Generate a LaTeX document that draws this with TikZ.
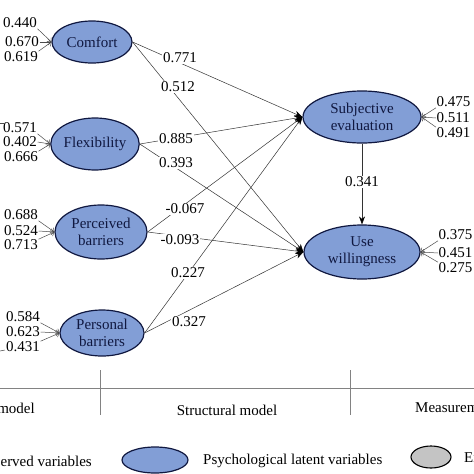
\documentclass[tikz,border=0pt]{standalone}
\usepackage{fontspec}
\setmainfont{Liberation Serif}
\usetikzlibrary{arrows.meta,shapes.geometric}
\definecolor{latent}{RGB}{130,158,214}
\definecolor{navy}{RGB}{16,24,64}
\definecolor{errgray}{RGB}{196,196,196}
\definecolor{rulegray}{RGB}{130,130,130}
\begin{document}
\begin{tikzpicture}[x=1pt,y=-1pt,
  font=\fontsize{15}{17}\selectfont,
  lat/.style={ellipse, draw=navy, line width=1.2pt, fill=latent, text=navy, align=center, inner sep=0pt},
  errell/.style={ellipse, draw=black, line width=1.1pt, fill=errgray, inner sep=0pt},
  pathline/.style={draw=black!80, line width=0.5pt, -{Stealth[length=8pt,width=6pt,color=black]}},
  measline/.style={draw=black!70, line width=0.5pt, -{Straight Barb[length=3pt,width=6pt]}},
  coef/.style={fill=white, inner sep=0.8pt},
  mnum/.style={inner sep=0.5pt},
  rule/.style={draw=rulegray, line width=0.6pt}]
\useasboundingbox (0,0) rectangle (474,474);
\clip (0,0) rectangle (474,474);
\fill[white] (0,0) rectangle (474,474);

% latent variables
\node[lat, minimum width=80pt, minimum height=42pt] (comfort) at (92,42) {Comfort};
\node[lat, minimum width=86pt, minimum height=52pt] (flex) at (95,144) {Flexibility};
\node[lat, minimum width=92pt, minimum height=54pt] (perc) at (101,232) {Perceived\\barriers};
\node[lat, minimum width=84pt, minimum height=46pt] (pers) at (102,333) {Personal\\barriers};
\node[lat, minimum width=118pt, minimum height=52pt] (subj) at (362,117) {Subjective\\evaluation};
\node[lat, minimum width=116pt, minimum height=54pt] (use) at (362,252) {Use\\willingness};

% structural paths
\draw[pathline] (comfort.east) -- (subj.west);
\draw[pathline] (comfort.east) -- (use.west);
\draw[pathline] (flex.east) -- (subj.west);
\draw[pathline] (flex.east) -- (use.west);
\draw[pathline] (perc.east) -- (subj.west);
\draw[pathline] (perc.east) -- (use.west);
\draw[pathline] (pers.east) -- (subj.west);
\draw[pathline] (pers.east) -- (use.west);
\draw[pathline] (subj.south) -- (use.north);

\node[coef] (c1) at (180,58) {0.771};
\node[coef] (c2) at (178,87) {0.512};
\node[coef] (c3) at (176,139) {0.885};
\node[coef] (c4) at (176,163) {0.393};
\node[coef] (c5) at (185,209) {-0.067};
\node[coef] (c6) at (180,240) {-0.093};
\node[coef] (c7) at (188,273) {0.227};
\node[coef] (c8) at (189,322) {0.327};
\node[coef] (c9) at (362,182) {0.341};

% measurement model, left
\node[mnum] (m1) at (20,23) {0.440};
\node[mnum] (m2) at (22,42) {0.670};
\node[mnum] (m3) at (21,57) {0.619};
\node[mnum] (m4) at (20,128) {0.571};
\node[mnum] (m5) at (20,142) {0.402};
\node[mnum] (m6) at (21,157) {0.666};
\node[mnum] (m7) at (21,215) {0.688};
\node[mnum] (m8) at (21,231) {0.524};
\node[mnum] (m9) at (21,245) {0.713};
\node[mnum] (m10) at (23,317) {0.584};
\node[mnum] (m11) at (23,332) {0.623};
\node[mnum] (m12) at (23,347) {0.431};
\foreach \a/\b/\c/\t in {m1/m2/m3/comfort,m4/m5/m6/flex,m7/m8/m9/perc,m10/m11/m12/pers}{
  \draw[measline] (\a.south east) -- (\t.west);
  \draw[measline] (\b.east) -- (\t.west);
  \draw[measline] (\c.north east) -- (\t.west);
}
\coordinate (q1) at (0,123); \coordinate (q2) at (4,123);
\draw[draw=black!70, line width=0.5pt] (q1) -- (q2);
\coordinate (q3) at (0,351); \coordinate (q4) at (5,350);
\draw[draw=black!70, line width=0.5pt] (q3) -- (q4);

% measurement model, right
\node[mnum, anchor=west] (r1) at (436,102) {0.475};
\node[mnum, anchor=west] (r2) at (436,118) {0.511};
\node[mnum, anchor=west] (r3) at (436,133) {0.491};
\node[mnum, anchor=west] (r4) at (438,235) {0.375};
\node[mnum, anchor=west] (r5) at (438,253) {0.451};
\node[mnum, anchor=west] (r6) at (438,268) {0.275};
\foreach \a/\b/\c/\t in {r1/r2/r3/subj,r4/r5/r6/use}{
  \draw[measline] (\a.south west) -- (\t.east);
  \draw[measline] (\b.west) -- (\t.east);
  \draw[measline] (\c.north west) -- (\t.east);
}

% table rules
\coordinate (hl) at (0,388); \coordinate (hr) at (474,388);
\draw[rule] (hl) -- (hr);
\coordinate (v1t) at (100,370); \coordinate (v1b) at (100,415);
\coordinate (v2t) at (350,370); \coordinate (v2b) at (350,415);
\draw[rule] (v1t) -- (v1b);
\draw[rule] (v2t) -- (v2b);
\node[anchor=east, inner sep=0pt] (t1) at (35,408) {Measurement model};
\node[inner sep=0pt] (t2) at (227,410) {Structural model};
\node[anchor=west, inner sep=0pt] (t3) at (415,407) {Measurement model};

% legend
\node[anchor=east, inner sep=0pt] (l1) at (92,461) {Observed variables};
\node[lat, minimum width=66pt, minimum height=26pt] (l2) at (155,460) {};
\node[anchor=west, inner sep=0pt] (l3) at (203,461) {Psychological latent variables};
\node[errell, minimum width=40pt, minimum height=22pt] (l4) at (431,457) {};
\node[anchor=west, inner sep=0pt] (l5) at (464,457) {Error variables};
\end{tikzpicture}
\end{document}
